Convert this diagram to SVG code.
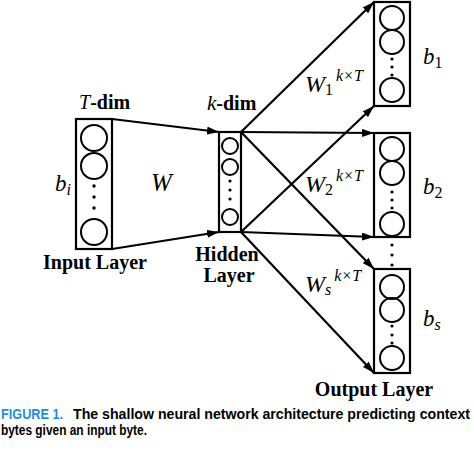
<svg xmlns="http://www.w3.org/2000/svg" width="474" height="453" viewBox="0 0 474 453">
<style>
.box{fill:none;stroke:#000;stroke-width:2.2}
.c{fill:none;stroke:#000;stroke-width:2}
.dot{fill:#000}
.ln{fill:none;stroke:#000;stroke-width:2.2;marker-end:url(#ah)}
.lab{font-family:"Liberation Serif",serif;font-weight:bold;font-size:20px;fill:#000}
.it{font-family:"Liberation Serif",serif;font-style:italic;fill:#000}
.cap{font-family:"Liberation Sans",sans-serif;font-weight:bold;font-size:14px}
</style>
<defs>
<marker id="ah" viewBox="0 0 12 8" refX="12" refY="4" markerWidth="12" markerHeight="8" markerUnits="userSpaceOnUse" orient="auto">
<path d="M0,0 L12,4 L0,8 z" fill="#000"/>
</marker>
</defs>
<rect width="474" height="453" fill="#fff"/>
<g id="connectors">
<line class="ln" x1="112" y1="119" x2="219" y2="132"/>
<line class="ln" x1="112" y1="249" x2="219" y2="232"/>
<line class="ln" x1="241" y1="132" x2="374" y2="2"/>
<line class="ln" x1="241" y1="132" x2="374" y2="133"/>
<line class="ln" x1="241" y1="132" x2="374" y2="269"/>
<line class="ln" x1="241" y1="232" x2="374" y2="106"/>
<line class="ln" x1="241" y1="232" x2="374" y2="237"/>
<line class="ln" x1="241" y1="232" x2="374" y2="373"/>
</g>
<g id="input-layer">
<rect class="box" x="76" y="119" width="36" height="130"/>
<circle class="c" cx="94" cy="138" r="13"/>
<circle class="c" cx="94" cy="166" r="13"/>
<circle class="c" cx="94" cy="232" r="13"/>
<circle class="dot" cx="94" cy="186" r="1.7"/>
<circle class="dot" cx="94" cy="197" r="1.7"/>
<circle class="dot" cx="94" cy="208" r="1.7"/>
<text class="lab" x="79" y="109"><tspan class="it" font-weight="normal">T</tspan>-dim</text>
<text class="it" x="55" y="191" font-size="23">b<tspan font-size="16" dy="4">i</tspan></text>
<text class="lab" x="95" y="269" text-anchor="middle">Input Layer</text>
</g>
<g id="weight-w">
<text class="it" x="151" y="191" font-size="25">W</text>
</g>
<g id="hidden-layer">
<rect class="box" x="219" y="132" width="22" height="100"/>
<circle class="c" cx="230" cy="146" r="8"/>
<circle class="c" cx="230" cy="167" r="8"/>
<circle class="c" cx="230" cy="217" r="8"/>
<circle class="dot" cx="230" cy="181" r="1.6"/>
<circle class="dot" cx="230" cy="190" r="1.6"/>
<circle class="dot" cx="230" cy="199" r="1.6"/>
<text class="lab" x="207" y="110"><tspan class="it" font-weight="normal" font-size="21">k</tspan>-dim</text>
<text class="lab" x="227" y="261" text-anchor="middle" font-size="19">Hidden</text>
<text class="lab" x="229" y="282" text-anchor="middle" font-size="19">Layer</text>
</g>
<g id="output-1">
<rect class="box" x="374" y="2" width="36" height="104"/>
<circle class="c" cx="392" cy="18" r="12"/>
<circle class="c" cx="392" cy="42" r="12"/>
<circle class="c" cx="392" cy="90" r="12"/>
<circle class="dot" cx="392" cy="59" r="1.6"/>
<circle class="dot" cx="392" cy="67" r="1.6"/>
<circle class="dot" cx="392" cy="75" r="1.6"/>
<text class="it" x="423" y="64" font-size="23">b<tspan font-size="16" dy="4" font-style="normal">1</tspan></text>
<text class="it" x="305" y="92" font-size="24">W<tspan font-size="16" dy="3" font-style="normal">1</tspan><tspan font-size="16" dx="3" dy="-14">k×T</tspan></text>
</g>
<g id="output-2">
<rect class="box" x="374" y="133" width="36" height="104"/>
<circle class="c" cx="392" cy="149" r="12"/>
<circle class="c" cx="392" cy="173" r="12"/>
<circle class="c" cx="392" cy="224" r="12"/>
<circle class="dot" cx="392" cy="192" r="1.6"/>
<circle class="dot" cx="392" cy="200" r="1.6"/>
<circle class="dot" cx="392" cy="208" r="1.6"/>
<text class="it" x="423" y="194" font-size="23">b<tspan font-size="16" dy="4" font-style="normal">2</tspan></text>
<text class="it" x="305" y="192" font-size="24">W<tspan font-size="16" dy="3" font-style="normal">2</tspan><tspan font-size="16" dx="3" dy="-14">k×T</tspan></text>
<circle class="dot" cx="392" cy="245" r="1.6"/>
<circle class="dot" cx="392" cy="255" r="1.6"/>
<circle class="dot" cx="392" cy="265" r="1.6"/>
</g>
<g id="output-s">
<rect class="box" x="374" y="269" width="36" height="104"/>
<circle class="c" cx="392" cy="287" r="12"/>
<circle class="c" cx="392" cy="310" r="12"/>
<circle class="c" cx="392" cy="358" r="12"/>
<circle class="dot" cx="392" cy="326" r="1.6"/>
<circle class="dot" cx="392" cy="335" r="1.6"/>
<circle class="dot" cx="392" cy="343" r="1.6"/>
<text class="it" x="423" y="326" font-size="23">b<tspan font-size="16" dy="4">s</tspan></text>
<text class="it" x="305" y="292" font-size="24">W<tspan font-size="16" dy="3">s</tspan><tspan font-size="16" dx="3" dy="-14">k×T</tspan></text>
<text class="lab" x="374" y="396" text-anchor="middle">Output Layer</text>
</g>
<g id="caption">
<text class="cap" x="1" y="419" fill="#1f8fcf" textLength="62" lengthAdjust="spacingAndGlyphs">FIGURE 1.</text>
<text class="cap" x="73" y="419" fill="#000" textLength="397" lengthAdjust="spacingAndGlyphs">The shallow neural network architecture predicting context</text>
<text class="cap" x="1" y="435" fill="#000" textLength="146" lengthAdjust="spacingAndGlyphs">bytes given an input byte.</text>
</g>
</svg>
